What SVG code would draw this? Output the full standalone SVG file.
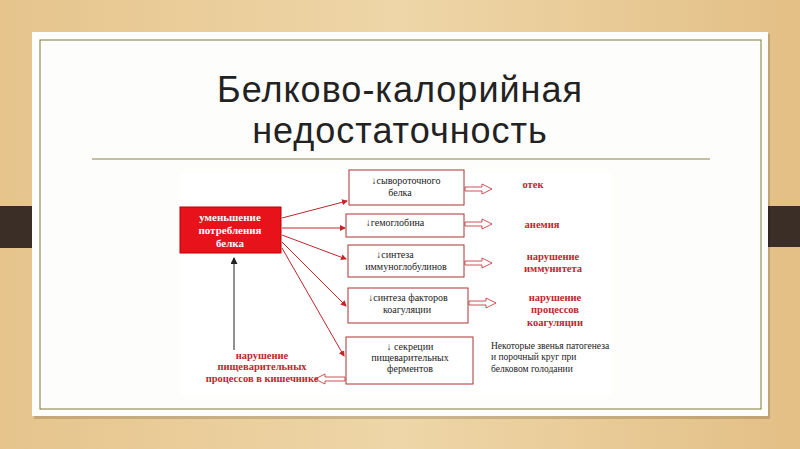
<svg xmlns="http://www.w3.org/2000/svg" width="800" height="449" viewBox="0 0 800 449">
<defs>
<marker id="ah" markerWidth="6" markerHeight="6" refX="5" refY="3" orient="auto" markerUnits="userSpaceOnUse"><path d="M0,0 L6,3 L0,6 z" fill="#c0262c"/></marker>
<marker id="bh" markerWidth="7" markerHeight="7" refX="6" refY="3.5" orient="auto" markerUnits="userSpaceOnUse"><path d="M0,0 L7,3.5 L0,7 z" fill="#222"/></marker>
<linearGradient id="wood" x1="0" y1="0" x2="1" y2="0"><stop offset="0" stop-color="#e6c48c"/><stop offset="0.5" stop-color="#eed6a8"/><stop offset="1" stop-color="#e3bf85"/></linearGradient>
</defs>
<style>
.box{fill:#fff;stroke:#a33;stroke-width:1}
.t{font-family:"Liberation Serif",serif;font-size:10px;fill:#222;text-anchor:middle}
.r{font-family:"Liberation Serif",serif;font-size:10.5px;font-weight:bold;fill:#c0262c;text-anchor:middle}
.w{font-family:"Liberation Serif",serif;font-size:11px;font-weight:bold;fill:#fff;text-anchor:middle}
.ra{stroke:#c0262c;stroke-width:1;fill:none}
.ho{fill:#fff;stroke:#c0262c;stroke-width:0.8}
.title{font-family:"Liberation Sans",sans-serif;font-size:36px;fill:#222;text-anchor:middle;letter-spacing:1px}
</style>
<rect width="800" height="449" fill="url(#wood)"/>
<rect x="0" y="206" width="50" height="42" fill="#3b2e26"/>
<rect x="750" y="206" width="50" height="41" fill="#3b2e26"/>
<rect x="34" y="34" width="736" height="385" fill="#000" opacity="0.15"/>
<rect x="32" y="32" width="736" height="384" fill="#fdfdfb"/>
<rect x="40" y="40" width="721" height="369" fill="none" stroke="#7d7a3a" stroke-width="1"/>
<text class="title" x="400" y="102">Белково-калорийная</text>
<text class="title" x="400" y="143">недостаточность</text>
<line x1="92" y1="159" x2="710" y2="159" stroke="#8a8640" stroke-width="1"/>
<rect x="180" y="172" width="432" height="223" fill="#fff"/>
<g id="connectors">
<line class="ra" x1="282" y1="218" x2="347" y2="201" marker-end="url(#ah)"/>
<line class="ra" x1="282" y1="228" x2="345" y2="228" marker-end="url(#ah)"/>
<line class="ra" x1="282" y1="235" x2="346" y2="259" marker-end="url(#ah)"/>
<line class="ra" x1="282" y1="242" x2="346" y2="306" marker-end="url(#ah)"/>
<line class="ra" x1="282" y1="248" x2="344" y2="356" marker-end="url(#ah)"/>
<line x1="234" y1="350" x2="234" y2="258" stroke="#222" stroke-width="1" marker-end="url(#bh)"/>
<path class="ho" d="M465,187 h17 v-3 l10,5 l-10,5 v-3 h-17 z"/>
<path class="ho" d="M465,222 h17 v-3 l10,5 l-10,5 v-3 h-17 z"/>
<path class="ho" d="M465,261 h17 v-3 l10,5 l-10,5 v-3 h-17 z"/>
<path class="ho" d="M469,301 h17 v-3 l10,5 l-10,5 v-3 h-17 z"/>
<path class="ho" d="M345,377 h-20 v-3 l-10,5 l10,5 v-3 h20 z"/>
</g>
<g id="n0"><rect x="180" y="207" width="101" height="46" fill="#e8121a" stroke="#b00" stroke-width="1"/>
<text class="w" x="230" y="221">уменьшение</text>
<text class="w" x="230" y="234">потребления</text>
<text class="w" x="230" y="247">белка</text></g>
<g id="n1"><rect class="box" x="349" y="170" width="115" height="35"/><text class="t" x="406" y="184">↓сывороточного</text><text class="t" x="400" y="196">белка</text></g>
<g id="n2"><rect class="box" x="346" y="214" width="118" height="23"/><text class="t" x="395" y="226">↓гемоглобина</text></g>
<g id="n3"><rect class="box" x="348" y="245" width="116" height="32"/><text class="t" x="395" y="258">↓синтеза</text><text class="t" x="406" y="270">иммуноглобулинов</text></g>
<g id="n4"><rect class="box" x="348" y="288" width="120" height="35"/><text class="t" x="408" y="301">↓синтеза факторов</text><text class="t" x="407" y="313">коагуляции</text></g>
<g id="n5"><rect class="box" x="346" y="337" width="127" height="47"/><text class="t" x="410" y="350">↓ секреции</text><text class="t" x="410" y="361">пищеварительных</text><text class="t" x="410" y="372">ферментов</text></g>
<g id="o1"><text class="r" x="533" y="188">отек</text></g>
<g id="o2"><text class="r" x="542" y="228">анемия</text></g>
<g id="o3"><text class="r" x="553" y="260">нарушение</text><text class="r" x="553" y="272">иммунитета</text></g>
<g id="o4"><text class="r" x="555" y="301">нарушение</text><text class="r" x="555" y="313">процессов</text><text class="r" x="555" y="326">коагуляции</text></g>
<g id="o5"><text class="r" x="262" y="359">нарушение</text><text class="r" x="262" y="370">пищеварительных</text><text class="r" x="262" y="382">процессов в кишечнике</text></g>
<g id="note" font-family="Liberation Serif,serif" font-size="9.5" fill="#222"><text x="491" y="349">Некоторые звенья патогенеза</text><text x="491" y="360">и порочный круг при</text><text x="491" y="372">белковом голодании</text></g>
</svg>
